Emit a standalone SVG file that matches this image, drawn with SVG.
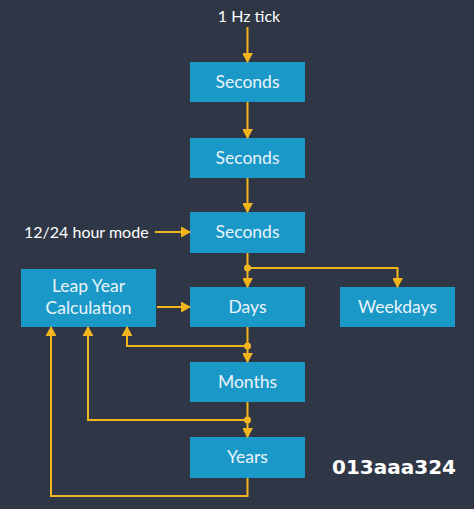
<svg xmlns="http://www.w3.org/2000/svg" width="474" height="509" viewBox="0 0 474 509">
<defs>
<marker id="ah" markerWidth="11" markerHeight="10" refX="9" refY="5.5" orient="auto" markerUnits="userSpaceOnUse">
<path d="M0,0 L10,5.5 L0,11 Z" fill="#f2b51e"/>
</marker>
</defs>
<style>
.box{fill:#1a98c8;}
.lbl{font-family:Lato,"Open Sans","Liberation Sans",sans-serif;font-size:17.5px;fill:#eaf4f8;text-anchor:middle;}
.side{font-family:Lato,"Open Sans","Liberation Sans",sans-serif;font-size:16px;fill:#ffffff;}
.ln{fill:none;stroke:#f2b51e;stroke-width:2;}
.dot{fill:#f2b51e;}
</style>
<rect x="0" y="0" width="474" height="509" fill="#2f3746"/>
<text class="side" x="249" y="22" text-anchor="middle">1 Hz tick</text>
<text class="side" x="24" y="238">12/24 hour mode</text>
<g id="sec1"><rect class="box" x="190" y="62" width="115" height="40"/><text class="lbl" x="247.5" y="88">Seconds</text></g>
<g id="sec2"><rect class="box" x="190" y="138" width="115" height="40"/><text class="lbl" x="247.5" y="164">Seconds</text></g>
<g id="sec3"><rect class="box" x="190" y="212" width="115" height="41"/><text class="lbl" x="247.5" y="238">Seconds</text></g>
<g id="leap"><rect class="box" x="21" y="269" width="135" height="58"/><text class="lbl" x="88.5" y="292">Leap Year</text><text class="lbl" x="88.5" y="314">Calculation</text></g>
<g id="days"><rect class="box" x="190" y="287" width="115" height="40"/><text class="lbl" x="247.5" y="313">Days</text></g>
<g id="weekdays"><rect class="box" x="340" y="287" width="115" height="40"/><text class="lbl" x="397.5" y="313">Weekdays</text></g>
<g id="months"><rect class="box" x="190" y="362" width="115" height="40"/><text class="lbl" x="247.5" y="388">Months</text></g>
<g id="years"><rect class="box" x="190" y="437" width="115" height="41"/><text class="lbl" x="247.5" y="463">Years</text></g>
<g id="connectors">
<path class="ln" d="M247.5,27 V62" marker-end="url(#ah)"/>
<path class="ln" d="M247.5,102 V138" marker-end="url(#ah)"/>
<path class="ln" d="M247.5,178 V212" marker-end="url(#ah)"/>
<path class="ln" d="M155,232 H190" marker-end="url(#ah)"/>
<path class="ln" d="M247.5,253 V287" marker-end="url(#ah)"/>
<path class="ln" d="M247.5,268 H397.5 V287" marker-end="url(#ah)"/>
<circle class="dot" cx="247.5" cy="268" r="3.5"/>
<path class="ln" d="M157,307 H190" marker-end="url(#ah)"/>
<path class="ln" d="M247.5,327 V362" marker-end="url(#ah)"/>
<path class="ln" d="M247.5,346 H127 V327" marker-end="url(#ah)"/>
<circle class="dot" cx="247.5" cy="346" r="3.5"/>
<path class="ln" d="M247.5,402 V437" marker-end="url(#ah)"/>
<path class="ln" d="M247.5,420 H88 V327" marker-end="url(#ah)"/>
<circle class="dot" cx="247.5" cy="420" r="3.5"/>
<path class="ln" d="M247.5,478 V496 H51 V327" marker-end="url(#ah)"/>
</g>
<text x="332" y="474" font-family="'DejaVu Sans',Verdana,sans-serif" font-weight="bold" font-size="20" fill="#ffffff">013aaa324</text>
</svg>
